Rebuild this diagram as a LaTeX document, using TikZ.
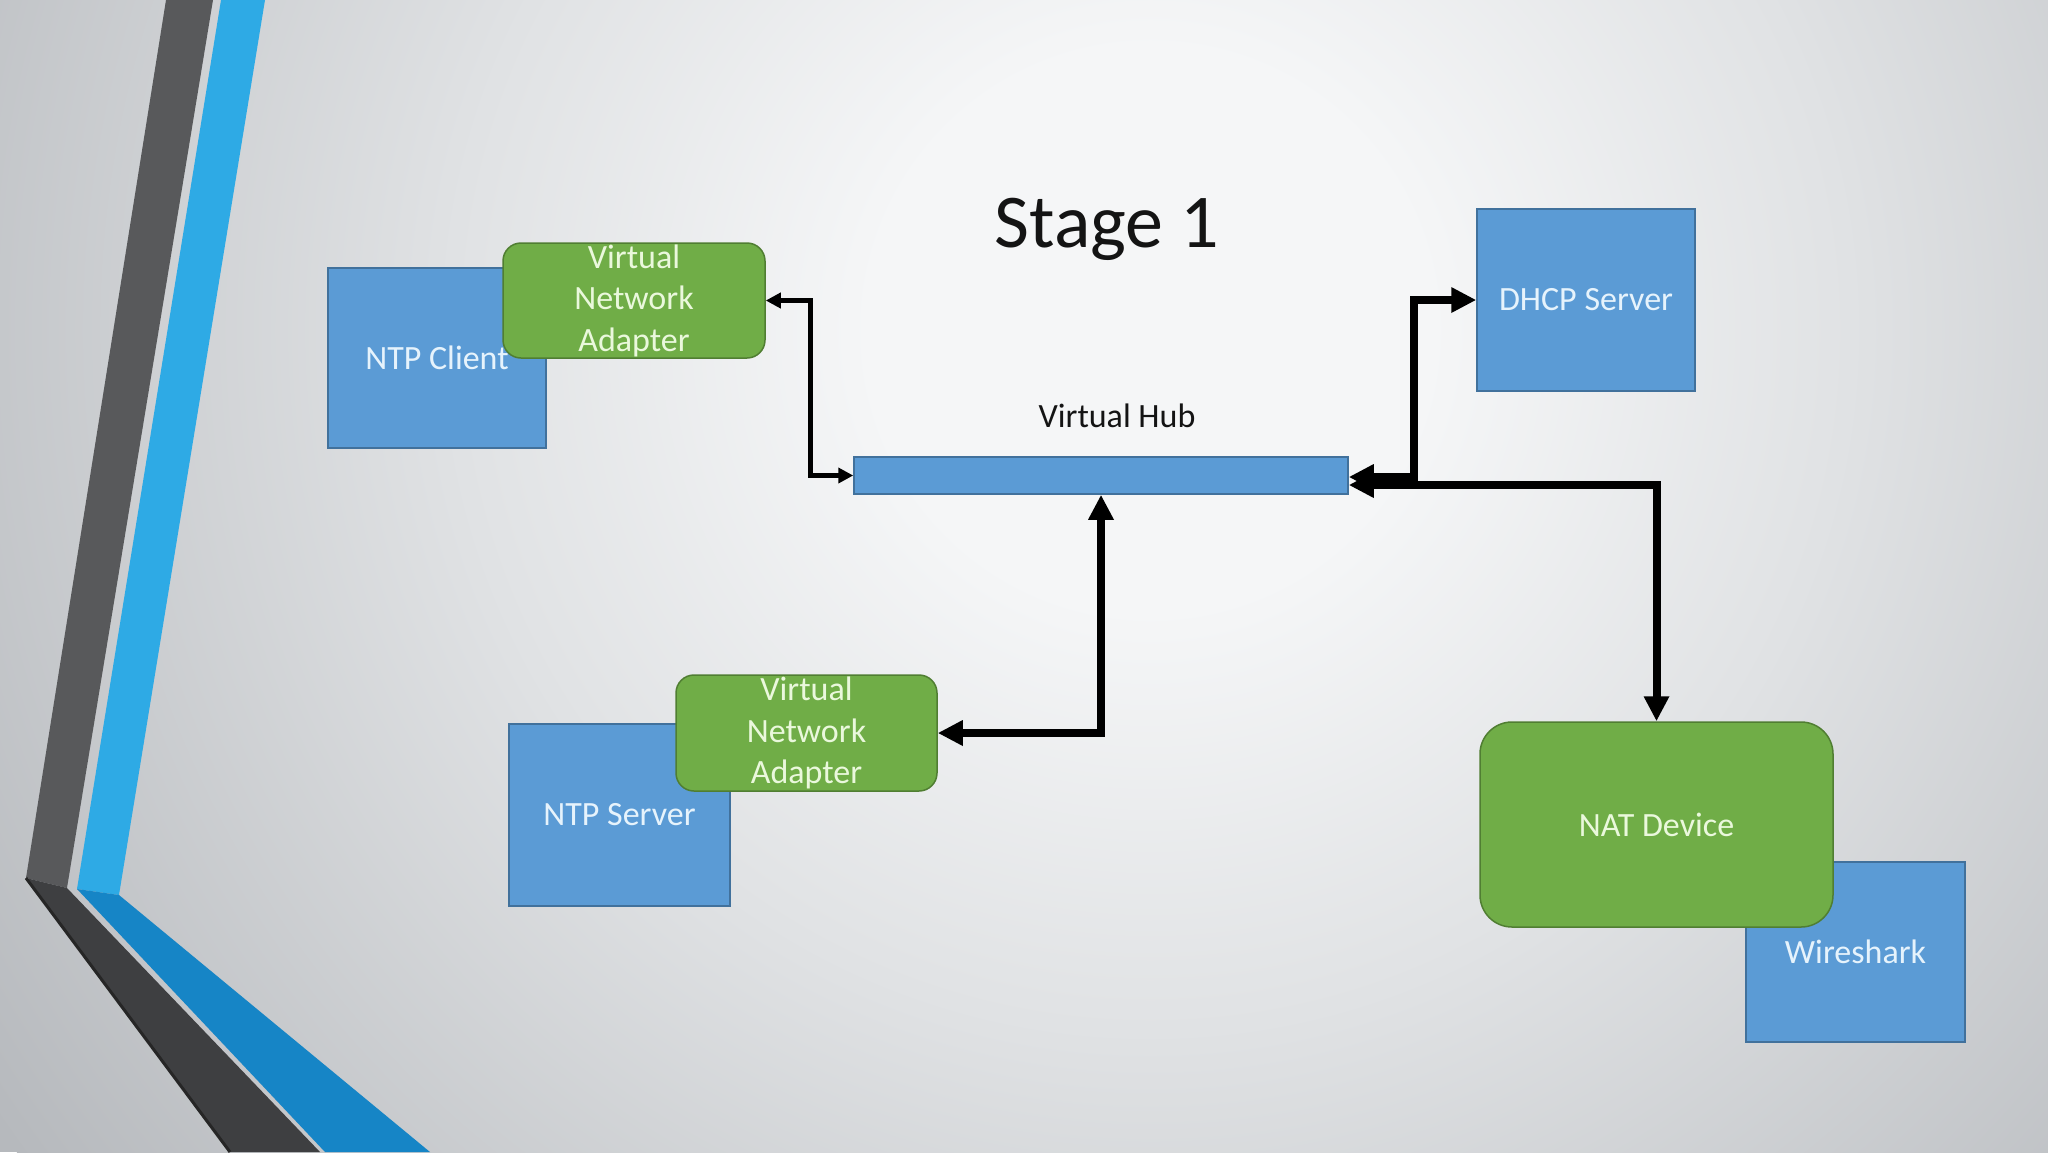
\documentclass[tikz,border=0pt]{standalone}
\usepackage{fontspec}
\setmainfont{Carlito}
\usetikzlibrary{arrows.meta,calc}
\definecolor{bgA}{HTML}{F5F6F7}
\definecolor{bgB}{HTML}{E0E2E4}
\definecolor{bgC}{HTML}{B6B9BD}
\definecolor{darkU}{HTML}{58595B}
\definecolor{darkL}{HTML}{3E3F41}
\definecolor{blueU}{HTML}{2EAAE5}
\definecolor{blueL}{HTML}{1685C6}
\definecolor{boxblue}{HTML}{5B9BD5}
\definecolor{boxblueline}{HTML}{41719C}
\definecolor{boxgreen}{HTML}{70AD47}
\definecolor{boxgreenline}{HTML}{507E32}
\definecolor{bluetext}{HTML}{E6F3FC}
\definecolor{greentext}{HTML}{EAF8DC}
\definecolor{inktext}{HTML}{141414}
% the central 50bp square of the shading is fitted to the path: 25bp = circle radius
\pgfdeclareradialshading{bgshade}{\pgfpoint{0bp}{0bp}}{color(0bp)=(bgA); color(5bp)=(bgA); color(12.5bp)=(bgB); color(25bp)=(bgC); color(50bp)=(bgC)}
\begin{document}
\begin{tikzpicture}[x=1pt,y=-1pt,
  bluebox/.style={draw=boxblueline, line width=1.5, fill=boxblue, text=bluetext,
    font=\fontsize{34}{41.5}\selectfont, inner sep=0, align=center},
  greenbox/.style={draw=boxgreenline, line width=1.5, fill=boxgreen, text=greentext,
    font=\fontsize{34}{41.5}\selectfont, inner sep=0, align=center},
  thinlink/.style={draw=black, line width=5, {Triangle[length=15,width=15]}-{Triangle[length=15,width=15]}},
  thicklink/.style={draw=black, line width=8, {Triangle[length=25,width=24]}-{Triangle[length=25,width=24]}}
]
\useasboundingbox (0,0) rectangle (2048,1152);
% background
\begin{scope}
\clip (0,0) rectangle (2048,1152);
\fill[bgC] (0,0) rectangle (2048,1152);
\shade[shading=bgshade] (1150,330) circle (1400);
\end{scope}
% decorative stripes
\fill[darkU] (166,0) -- (213,0) -- (67,888) -- (26,878) -- cycle;
\fill[blueU] (221,0) -- (265,0) -- (119,895) -- (77,889) -- cycle;
\fill[darkL] (26,878) -- (67,888) -- (320,1152) -- (230,1152) -- cycle;
\fill[blueL] (77,889) -- (119,895) -- (430,1152) -- (325,1152) -- cycle;
\draw[line width=3, black!85] (26,878) -- (230,1152);

% title and label
\node[anchor=base, text=inktext, font=\fontsize{76}{90}\selectfont, inner sep=0] (title) at (1107,247) {Stage 1};
\node[anchor=base, text=inktext, font=\fontsize{34}{41.5}\selectfont, inner sep=0] (hublabel) at (1117,427) {Virtual Hub};

% boxes
\node[bluebox, minimum width=218, minimum height=180] (client) at (437,358) {NTP Client};
\node[greenbox, rounded corners=18, minimum width=262, minimum height=115] (vna1) at (634,300.5) {Virtual\\Network\\Adapter};
\node[bluebox, minimum width=218, minimum height=182] (dhcp) at (1586,300) {DHCP Server};
\node[bluebox, minimum width=494, minimum height=37] (hub) at (1101,475.5) {};
\node[bluebox, minimum width=221, minimum height=182] (server) at (619.5,815) {NTP Server};
\node[greenbox, rounded corners=18, minimum width=261, minimum height=116] (vna2) at (806.5,733) {Virtual\\Network\\Adapter};
\node[bluebox, minimum width=219, minimum height=180] (wire) at (1855.5,952) {Wireshark};
\node[greenbox, rounded corners=32, minimum width=353, minimum height=205] (nat) at (1656.5,824.5) {NAT Device};

% connectors
\draw[thinlink] (vna1.east) -- ++(45,0) |- (hub.west);
\draw[thicklink] (hub.south) |- (vna2.east);
\draw[thicklink] ($(hub.east)+(0,1.5)$) -- ++(65,0) |- (dhcp.west);
\draw[thicklink] ($(hub.east)+(0,9.5)$) -| (nat.north);
\end{tikzpicture}
\end{document}
